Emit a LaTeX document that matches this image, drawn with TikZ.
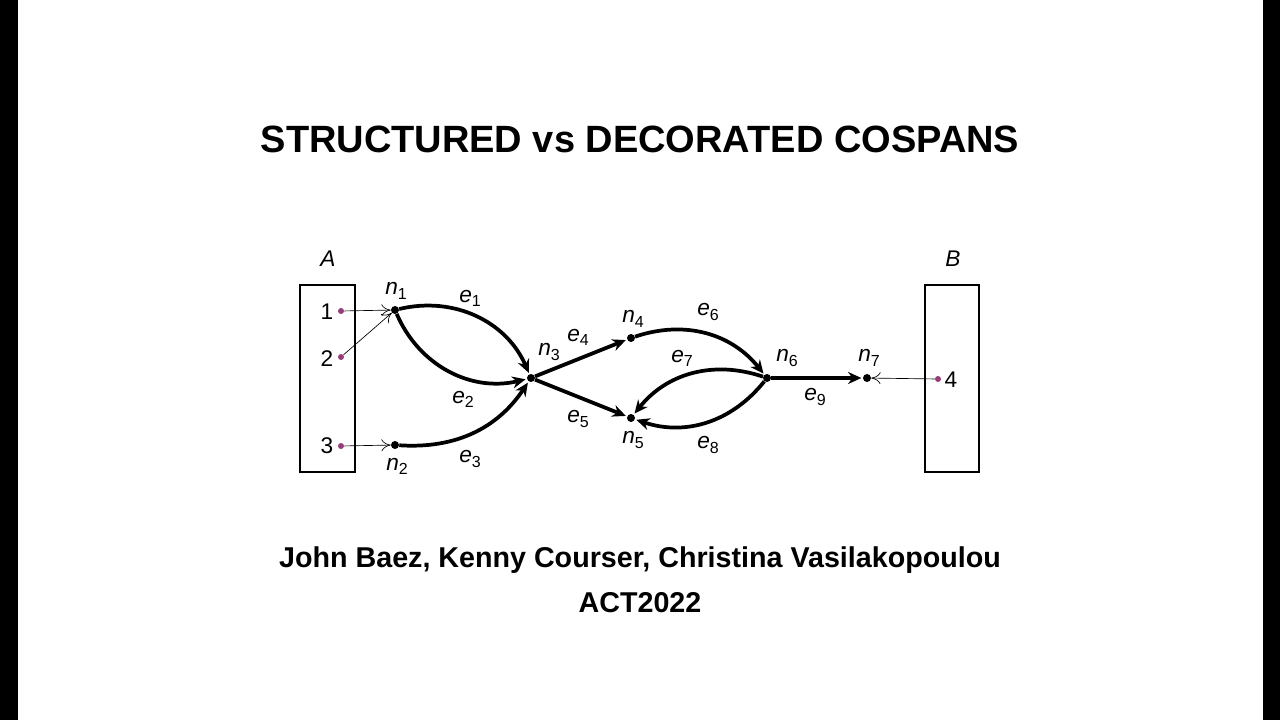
\documentclass[tikz,border=0pt]{standalone}
\usepackage{fontspec}
\setmainfont{Liberation Sans}
\usetikzlibrary{arrows.meta}
\definecolor{dotpurple}{RGB}{150,60,120}
\newcommand{\sub}[2]{\textit{#1}\raisebox{-0.35ex}{\fontsize{12}{14}\selectfont #2}}
\begin{document}
\begin{tikzpicture}[x=0.75pt,y=-0.75pt,>=Stealth]
	\tikzset{
		vertex/.style={circle, fill=black, inner sep=0pt, minimum size=6pt},
		port/.style={circle, fill=dotpurple, inner sep=0pt, minimum size=4.5pt},
		edge/.style={line width=2.8pt, ->, >={Stealth[length=10pt,width=9pt]}, shorten >=1pt},
		leg/.style={line width=0.5pt, ->, >={To[length=7pt,width=9pt]}},
		lbl/.style={font=\fontsize{17}{19}\selectfont},
		setbox/.style={draw, line width=1.6pt, minimum width=41pt, minimum height=140pt, inner sep=0pt}
	}
	\useasboundingbox (0,0) rectangle (1280,720);
	\fill[black] (0,0) rectangle (18,720);
	\fill[black] (1263,0) rectangle (1280,720);
	\node[font=\fontsize{28.5}{32}\selectfont\bfseries] (title) at (640,139) {STRUCTURED vs DECORATED COSPANS};
	% sets
	\node[setbox] (boxA) at (327.5,378.5) {};
	\node[setbox] (boxB) at (952,378.5) {};
	\node[lbl] (labA) at (328,259) {\textit{A}};
	\node[lbl] (labB) at (953,259) {\textit{B}};
	\node[port] (p1) at (341,311) {};
	\node[port] (p2) at (341,357) {};
	\node[port] (p3) at (341,446) {};
	\node[port] (p4) at (938,379) {};
	\node[lbl] at (327,312) {1};
	\node[lbl] at (327,359) {2};
	\node[lbl] at (327,446) {3};
	\node[lbl] at (951,380) {4};
	% graph
	\node[vertex] (n1) at (395,310) {};
	\node[vertex] (n2) at (395,445) {};
	\node[vertex] (n3) at (531,378) {};
	\node[vertex] (n4) at (631,338) {};
	\node[vertex] (n5) at (631,418) {};
	\node[vertex] (n6) at (767,378) {};
	\node[vertex] (n7) at (867,378) {};
	\node[lbl] at (396,291) {\sub{n}{1}};
	\node[lbl] at (397,466) {\sub{n}{2}};
	\node[lbl] at (549,352) {\sub{n}{3}};
	\node[lbl] at (633,319) {\sub{n}{4}};
	\node[lbl] at (633,440) {\sub{n}{5}};
	\node[lbl] at (787,358) {\sub{n}{6}};
	\node[lbl] at (869,358) {\sub{n}{7}};
	%draw arrows
	\draw[leg] (p1) -- (n1);
	\draw[leg] (p2) -- (n1);
	\draw[leg] (p3) -- (n2);
	\draw[leg] (p4) -- (n7);
	\draw[edge] (n1) to[bend left=40] (n3);
	\draw[edge] (n1) to[bend right=40] (n3);
	\draw[edge] (n2) to[bend right=30] (n3);
	\draw[edge] (n3) -- (n4);
	\draw[edge] (n3) -- (n5);
	\draw[edge] (n4) to[bend left=35] (n6);
	\draw[edge] (n6) to[bend right=35] (n5);
	\draw[edge] (n6) to[bend left=35] (n5);
	\draw[edge] (n6) -- (n7);
	\node[lbl] at (470,298) {\sub{e}{1}};
	\node[lbl] at (463,399) {\sub{e}{2}};
	\node[lbl] at (470,459) {\sub{e}{3}};
	\node[lbl] at (578,337) {\sub{e}{4}};
	\node[lbl] at (578,419) {\sub{e}{5}};
	\node[lbl] at (708,312) {\sub{e}{6}};
	\node[lbl] at (682,358) {\sub{e}{7}};
	\node[lbl] at (708,445) {\sub{e}{8}};
	\node[lbl] at (815,397) {\sub{e}{9}};
	\node[font=\fontsize{21.5}{25}\selectfont\bfseries] (authors) at (640,560) {John Baez, Kenny Courser, Christina Vasilakopoulou};
	\node[font=\fontsize{21.5}{25}\selectfont\bfseries] (conf) at (640,603) {ACT2022};
\end{tikzpicture}
\end{document}
